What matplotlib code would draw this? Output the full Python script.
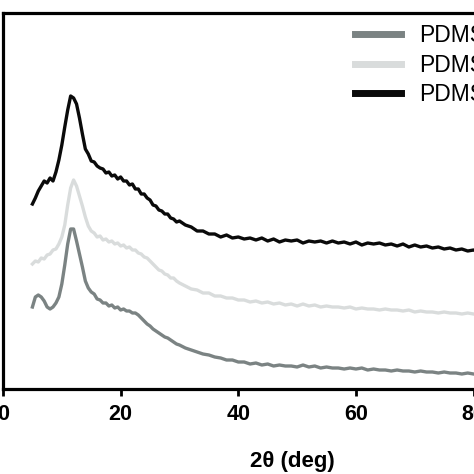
import numpy as np
import matplotlib.pyplot as plt

plt.rcParams['font.family'] = ['Liberation Sans', 'DejaVu Sans']

# 2-theta scan grid (deg): 0.5 deg steps up to 30, then 1 deg steps
two_theta = np.concatenate([np.arange(5.0, 30.01, 0.5), np.arange(31, 83, 1.0)])

# intensities (arbitrary units, curves already offset)
pdms_a = [82, 92, 94, 92, 88, 82, 80, 82, 86, 92, 105, 124, 145, 160, 160, 148, 135, 122, 108, 101,
          97, 95, 90, 89, 86, 86, 83, 84, 81, 82, 79, 80, 78, 78, 76, 76, 74, 71, 68, 65,
          63, 60, 58, 56, 54, 52, 51, 49, 47, 45, 44,
          41, 39, 37, 35, 34, 32, 31, 29, 29, 27, 27, 25, 26, 24, 25, 23, 24, 23, 23, 22,
          24, 22, 23, 21, 22, 21, 21, 20, 21, 20, 21, 19, 20, 19, 19, 18, 19, 18, 18, 17,
          18, 17, 17, 16, 17, 16, 16, 15, 16, 15, 14, 15]
pdms_b = [125, 128, 127, 131, 130, 134, 135, 139, 140, 145, 152, 164, 184, 201, 209, 203, 193, 183, 172, 163,
          158, 156, 152, 153, 149, 150, 147, 148, 145, 146, 143, 144, 141, 142, 139, 139, 136, 135, 132, 131,
          128, 125, 122, 119, 118, 115, 114, 111, 111, 108, 106,
          103, 100, 99, 96, 96, 93, 93, 91, 91, 89, 89, 87, 88, 86, 87, 85, 86, 84, 85, 83,
          85, 83, 84, 82, 83, 82, 82, 81, 82, 80, 81, 80, 80, 79, 80, 79, 79, 78, 79, 77,
          78, 77, 77, 76, 77, 76, 76, 75, 76, 75, 74, 75]
pdms_c = [185, 191, 198, 203, 208, 206, 211, 208, 217, 229, 244, 262, 279, 293, 291, 285, 271, 255, 240, 235,
          228, 227, 223, 221, 220, 216, 217, 213, 214, 210, 212, 208, 208, 204, 205, 200, 200, 195, 195, 191,
          189, 184, 183, 179, 178, 175, 175, 171, 170, 167, 168,
          164, 162, 158, 158, 155, 155, 152, 154, 151, 152, 150, 151, 149, 151, 148, 150, 147, 149, 148, 149,
          146, 148, 147, 148, 146, 148, 146, 147, 145, 147, 144, 146, 145, 146, 144, 145, 143, 145, 142, 144,
          142, 143, 141, 142, 140, 141, 139, 140, 138, 139, 137, 138]

series = [pdms_a, pdms_b, pdms_c]
labels = ['PDMS-1', 'PDMS-2', 'PDMS-3']
colors = ['#7b8383', '#d9dcdc', '#0a0a0a']
x_ticks = [0, 20, 40, 60, 80]

fig = plt.figure(figsize=(4.74, 4.74), dpi=100)
ax = fig.add_axes([3 / 474, 85 / 474, 500 / 474, 376 / 474])  # plot runs past the right edge (cropped)

for y, lab, col in zip(series, labels, colors):
    ax.plot(two_theta, y, color=col, lw=2.4, label=lab)

ax.set_xlim(0, 85)
ax.set_ylim(0, 376)
ax.set_xticks(x_ticks)
ax.set_yticks([])
for lab in ax.get_xticklabels():
    lab.set_fontweight('bold')
ax.tick_params(axis='x', labelsize=15.5, length=5, width=2, pad=6)
for s in ax.spines.values():
    s.set_linewidth(2.3)

ax.set_xlabel('2θ (deg)', fontsize=16, fontweight='bold')
ax.xaxis.set_label_coords(289 / 500, -0.165)

leg = ax.legend(loc='upper left', bbox_to_anchor=(355 / 474, 0.950), bbox_transform=fig.transFigure,
                frameon=False, fontsize=16.5, handlelength=2.0, handletextpad=0.8,
                labelspacing=0.3, borderpad=0, borderaxespad=0)
for line in leg.get_lines():
    line.set_linewidth(5)

fig.savefig('out.png', dpi=100)
